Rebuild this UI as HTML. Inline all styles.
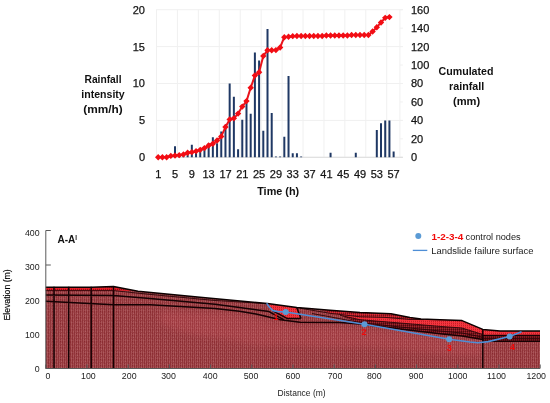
<!DOCTYPE html>
<html lang="en"><head><meta charset="utf-8"><title>Rainfall and slope section</title>
<style>html,body{margin:0;padding:0;background:#fff}svg{display:block}</style></head>
<body>
<svg width="550" height="403" viewBox="0 0 550 403">
<defs>
<pattern id="mesh" width="8" height="6" patternUnits="userSpaceOnUse" shape-rendering="crispEdges"><rect x="0" y="0" width="1" height="1" fill="rgb(144, 50, 55)"/><rect x="1" y="0" width="1" height="1" fill="rgb(161, 73, 77)"/><rect x="2" y="0" width="1" height="1" fill="rgb(149, 57, 62)"/><rect x="3" y="0" width="1" height="1" fill="rgb(160, 71, 76)"/><rect x="4" y="0" width="1" height="1" fill="rgb(147, 54, 60)"/><rect x="5" y="0" width="1" height="1" fill="rgb(165, 78, 82)"/><rect x="6" y="0" width="1" height="1" fill="rgb(139, 44, 50)"/><rect x="7" y="0" width="1" height="1" fill="rgb(167, 81, 85)"/><rect x="0" y="1" width="1" height="1" fill="rgb(145, 51, 56)"/><rect x="1" y="1" width="1" height="1" fill="rgb(172, 87, 91)"/><rect x="2" y="1" width="1" height="1" fill="rgb(145, 52, 57)"/><rect x="3" y="1" width="1" height="1" fill="rgb(166, 80, 84)"/><rect x="4" y="1" width="1" height="1" fill="rgb(151, 60, 65)"/><rect x="5" y="1" width="1" height="1" fill="rgb(178, 96, 99)"/><rect x="6" y="1" width="1" height="1" fill="rgb(146, 53, 58)"/><rect x="7" y="1" width="1" height="1" fill="rgb(168, 83, 86)"/><rect x="0" y="2" width="1" height="1" fill="rgb(143, 49, 54)"/><rect x="1" y="2" width="1" height="1" fill="rgb(169, 83, 87)"/><rect x="2" y="2" width="1" height="1" fill="rgb(142, 48, 53)"/><rect x="3" y="2" width="1" height="1" fill="rgb(159, 71, 75)"/><rect x="4" y="2" width="1" height="1" fill="rgb(149, 56, 62)"/><rect x="5" y="2" width="1" height="1" fill="rgb(154, 63, 68)"/><rect x="6" y="2" width="1" height="1" fill="rgb(147, 54, 59)"/><rect x="7" y="2" width="1" height="1" fill="rgb(158, 69, 73)"/><rect x="0" y="3" width="1" height="1" fill="rgb(141, 46, 51)"/><rect x="1" y="3" width="1" height="1" fill="rgb(161, 72, 77)"/><rect x="2" y="3" width="1" height="1" fill="rgb(143, 49, 55)"/><rect x="3" y="3" width="1" height="1" fill="rgb(172, 88, 91)"/><rect x="4" y="3" width="1" height="1" fill="rgb(141, 46, 52)"/><rect x="5" y="3" width="1" height="1" fill="rgb(168, 83, 87)"/><rect x="6" y="3" width="1" height="1" fill="rgb(149, 57, 62)"/><rect x="7" y="3" width="1" height="1" fill="rgb(165, 78, 82)"/><rect x="0" y="4" width="1" height="1" fill="rgb(153, 62, 67)"/><rect x="1" y="4" width="1" height="1" fill="rgb(165, 79, 83)"/><rect x="2" y="4" width="1" height="1" fill="rgb(145, 51, 57)"/><rect x="3" y="4" width="1" height="1" fill="rgb(168, 82, 86)"/><rect x="4" y="4" width="1" height="1" fill="rgb(155, 65, 70)"/><rect x="5" y="4" width="1" height="1" fill="rgb(172, 87, 91)"/><rect x="6" y="4" width="1" height="1" fill="rgb(149, 57, 62)"/><rect x="7" y="4" width="1" height="1" fill="rgb(174, 91, 94)"/><rect x="0" y="5" width="1" height="1" fill="rgb(140, 45, 51)"/><rect x="1" y="5" width="1" height="1" fill="rgb(158, 69, 73)"/><rect x="2" y="5" width="1" height="1" fill="rgb(146, 52, 58)"/><rect x="3" y="5" width="1" height="1" fill="rgb(165, 78, 82)"/><rect x="4" y="5" width="1" height="1" fill="rgb(136, 40, 46)"/><rect x="5" y="5" width="1" height="1" fill="rgb(162, 75, 79)"/><rect x="6" y="5" width="1" height="1" fill="rgb(141, 46, 52)"/><rect x="7" y="5" width="1" height="1" fill="rgb(167, 82, 85)"/></pattern>
<pattern id="meshb" width="2" height="2" patternUnits="userSpaceOnUse" shape-rendering="crispEdges"><rect x="0" y="0" width="1" height="1" fill="rgb(246, 50, 60)"/><rect x="1" y="0" width="1" height="1" fill="rgb(236, 44, 54)"/><rect x="0" y="1" width="1" height="1" fill="rgb(238, 62, 70)"/><rect x="1" y="1" width="1" height="1" fill="rgb(200, 28, 38)"/></pattern>
<pattern id="meshm" width="2" height="2" patternUnits="userSpaceOnUse" shape-rendering="crispEdges"><rect x="0" y="0" width="1" height="1" fill="rgb(225, 44, 54)"/><rect x="1" y="0" width="1" height="1" fill="rgb(170, 30, 40)"/><rect x="0" y="1" width="1" height="1" fill="rgb(190, 34, 44)"/><rect x="1" y="1" width="1" height="1" fill="rgb(120, 16, 24)"/></pattern>
<pattern id="meshb2" width="2" height="2" patternUnits="userSpaceOnUse" shape-rendering="crispEdges"><rect x="0" y="0" width="1" height="1" fill="rgb(236, 30, 40)"/><rect x="1" y="0" width="1" height="1" fill="rgb(214, 24, 34)"/><rect x="0" y="1" width="1" height="1" fill="rgb(222, 28, 38)"/><rect x="1" y="1" width="1" height="1" fill="rgb(150, 12, 20)"/></pattern>
<pattern id="meshd" width="2" height="2" patternUnits="userSpaceOnUse" shape-rendering="crispEdges"><rect x="0" y="0" width="1" height="1" fill="rgb(160, 40, 48)"/><rect x="1" y="0" width="1" height="1" fill="rgb(112, 18, 26)"/><rect x="0" y="1" width="1" height="1" fill="rgb(128, 24, 30)"/><rect x="1" y="1" width="1" height="1" fill="rgb(76, 8, 12)"/></pattern>
<filter id="bl" x="-20%" y="-20%" width="140%" height="140%"><feGaussianBlur stdDeviation="3"/></filter>
</defs>
<rect width="550" height="403" fill="#fff"/>
<path d="M156.1 157.30H402.9M156.1 120.40H402.9M156.1 83.50H402.9M156.1 46.60H402.9M156.1 9.70H402.9M156.50 9.7V157.3M177.43 9.7V157.3M198.36 9.7V157.3M219.29 9.7V157.3M240.22 9.7V157.3M261.15 9.7V157.3M282.08 9.7V157.3M303.01 9.7V157.3M323.94 9.7V157.3M344.87 9.7V157.3M365.80 9.7V157.3M386.73 9.7V157.3M399.9 9.7V157.3M399.9 157.30h3M399.9 138.85h3M399.9 120.40h3M399.9 101.95h3M399.9 83.50h3M399.9 65.05h3M399.9 46.60h3M399.9 28.15h3M399.9 9.70h3" stroke="#f0f0f0" stroke-width="1" fill="none"/>
<path d="M156.1 157.3H402.9" stroke="#dcdcdc" stroke-width="1" fill="none"/>
<path d="M174.02 157.3v-11.07h2.0v11.07zM178.22 157.3v-2.21h2.0v2.21zM182.43 157.3v-3.69h2.0v3.69zM186.63 157.3v-5.90h2.0v5.90zM190.83 157.3v-12.55h2.0v12.55zM195.04 157.3v-5.17h2.0v5.17zM199.24 157.3v-8.12h2.0v8.12zM203.45 157.3v-9.96h2.0v9.96zM207.65 157.3v-14.02h2.0v14.02zM211.85 157.3v-19.93h2.0v19.93zM216.06 157.3v-14.02h2.0v14.02zM220.26 157.3v-25.83h2.0v25.83zM224.47 157.3v-32.47h2.0v32.47zM228.67 157.3v-73.80h2.0v73.80zM232.87 157.3v-60.52h2.0v60.52zM237.08 157.3v-8.12h2.0v8.12zM241.28 157.3v-37.64h2.0v37.64zM245.49 157.3v-55.35h2.0v55.35zM249.69 157.3v-43.54h2.0v43.54zM253.89 157.3v-104.80h2.0v104.80zM258.10 157.3v-96.68h2.0v96.68zM262.30 157.3v-26.57h2.0v26.57zM266.51 157.3v-128.41h2.0v128.41zM270.71 157.3v-44.28h2.0v44.28zM274.91 157.3v-0.89h2.0v0.89zM279.12 157.3v-0.89h2.0v0.89zM283.32 157.3v-20.66h2.0v20.66zM287.53 157.3v-81.18h2.0v81.18zM291.73 157.3v-4.06h2.0v4.06zM295.93 157.3v-4.06h2.0v4.06zM300.14 157.3v-0.89h2.0v0.89zM329.57 157.3v-4.43h2.0v4.43zM354.79 157.3v-4.43h2.0v4.43zM375.81 157.3v-27.31h2.0v27.31zM380.01 157.3v-33.95h2.0v33.95zM384.22 157.3v-36.90h2.0v36.90zM388.42 157.3v-36.90h2.0v36.90zM392.63 157.3v-5.90h2.0v5.90z" fill="#1f3864"/>
<polyline points="158.20,157.30 162.41,157.30 166.61,157.30 170.81,155.90 175.02,155.62 179.22,155.15 183.43,154.40 187.63,152.81 191.83,152.16 196.04,151.13 200.24,149.87 204.45,148.09 208.65,145.57 212.85,143.79 217.06,140.52 221.26,136.41 225.47,127.06 229.67,119.40 233.87,118.37 238.08,113.60 242.28,106.59 246.49,101.08 250.69,87.80 254.89,75.56 259.10,72.19 263.30,55.93 267.51,50.32 271.71,50.21 275.91,50.09 280.12,47.48 284.32,37.20 288.53,36.68 292.73,36.17 296.93,36.06 301.14,36.06 305.34,36.06 309.55,36.06 313.75,36.06 317.95,36.06 322.16,36.06 326.36,35.49 330.57,35.49 334.77,35.49 338.97,35.49 343.18,35.49 347.38,35.49 351.59,34.93 355.79,34.93 359.99,34.93 364.20,34.93 368.40,34.93 372.61,31.47 376.81,27.18 381.01,22.50 385.22,17.83 389.42,17.08" fill="none" stroke="#e8141c" stroke-width="2" stroke-linejoin="round"/>
<path d="M158.20 154.10l3.2 3.2l-3.2 3.2l-3.2 -3.2zM162.41 154.10l3.2 3.2l-3.2 3.2l-3.2 -3.2zM166.61 154.10l3.2 3.2l-3.2 3.2l-3.2 -3.2zM170.81 152.70l3.2 3.2l-3.2 3.2l-3.2 -3.2zM175.02 152.42l3.2 3.2l-3.2 3.2l-3.2 -3.2zM179.22 151.95l3.2 3.2l-3.2 3.2l-3.2 -3.2zM183.43 151.20l3.2 3.2l-3.2 3.2l-3.2 -3.2zM187.63 149.61l3.2 3.2l-3.2 3.2l-3.2 -3.2zM191.83 148.96l3.2 3.2l-3.2 3.2l-3.2 -3.2zM196.04 147.93l3.2 3.2l-3.2 3.2l-3.2 -3.2zM200.24 146.67l3.2 3.2l-3.2 3.2l-3.2 -3.2zM204.45 144.89l3.2 3.2l-3.2 3.2l-3.2 -3.2zM208.65 142.37l3.2 3.2l-3.2 3.2l-3.2 -3.2zM212.85 140.59l3.2 3.2l-3.2 3.2l-3.2 -3.2zM217.06 137.32l3.2 3.2l-3.2 3.2l-3.2 -3.2zM221.26 133.21l3.2 3.2l-3.2 3.2l-3.2 -3.2zM225.47 123.86l3.2 3.2l-3.2 3.2l-3.2 -3.2zM229.67 116.20l3.2 3.2l-3.2 3.2l-3.2 -3.2zM233.87 115.17l3.2 3.2l-3.2 3.2l-3.2 -3.2zM238.08 110.40l3.2 3.2l-3.2 3.2l-3.2 -3.2zM242.28 103.39l3.2 3.2l-3.2 3.2l-3.2 -3.2zM246.49 97.88l3.2 3.2l-3.2 3.2l-3.2 -3.2zM250.69 84.60l3.2 3.2l-3.2 3.2l-3.2 -3.2zM254.89 72.36l3.2 3.2l-3.2 3.2l-3.2 -3.2zM259.10 68.99l3.2 3.2l-3.2 3.2l-3.2 -3.2zM263.30 52.73l3.2 3.2l-3.2 3.2l-3.2 -3.2zM267.51 47.12l3.2 3.2l-3.2 3.2l-3.2 -3.2zM271.71 47.01l3.2 3.2l-3.2 3.2l-3.2 -3.2zM275.91 46.89l3.2 3.2l-3.2 3.2l-3.2 -3.2zM280.12 44.28l3.2 3.2l-3.2 3.2l-3.2 -3.2zM284.32 34.00l3.2 3.2l-3.2 3.2l-3.2 -3.2zM288.53 33.48l3.2 3.2l-3.2 3.2l-3.2 -3.2zM292.73 32.97l3.2 3.2l-3.2 3.2l-3.2 -3.2zM296.93 32.86l3.2 3.2l-3.2 3.2l-3.2 -3.2zM301.14 32.86l3.2 3.2l-3.2 3.2l-3.2 -3.2zM305.34 32.86l3.2 3.2l-3.2 3.2l-3.2 -3.2zM309.55 32.86l3.2 3.2l-3.2 3.2l-3.2 -3.2zM313.75 32.86l3.2 3.2l-3.2 3.2l-3.2 -3.2zM317.95 32.86l3.2 3.2l-3.2 3.2l-3.2 -3.2zM322.16 32.86l3.2 3.2l-3.2 3.2l-3.2 -3.2zM326.36 32.29l3.2 3.2l-3.2 3.2l-3.2 -3.2zM330.57 32.29l3.2 3.2l-3.2 3.2l-3.2 -3.2zM334.77 32.29l3.2 3.2l-3.2 3.2l-3.2 -3.2zM338.97 32.29l3.2 3.2l-3.2 3.2l-3.2 -3.2zM343.18 32.29l3.2 3.2l-3.2 3.2l-3.2 -3.2zM347.38 32.29l3.2 3.2l-3.2 3.2l-3.2 -3.2zM351.59 31.73l3.2 3.2l-3.2 3.2l-3.2 -3.2zM355.79 31.73l3.2 3.2l-3.2 3.2l-3.2 -3.2zM359.99 31.73l3.2 3.2l-3.2 3.2l-3.2 -3.2zM364.20 31.73l3.2 3.2l-3.2 3.2l-3.2 -3.2zM368.40 31.73l3.2 3.2l-3.2 3.2l-3.2 -3.2zM372.61 28.27l3.2 3.2l-3.2 3.2l-3.2 -3.2zM376.81 23.98l3.2 3.2l-3.2 3.2l-3.2 -3.2zM381.01 19.30l3.2 3.2l-3.2 3.2l-3.2 -3.2zM385.22 14.63l3.2 3.2l-3.2 3.2l-3.2 -3.2zM389.42 13.88l3.2 3.2l-3.2 3.2l-3.2 -3.2z" fill="#f20d14"/>
<g font-family="Liberation Sans, sans-serif" font-size="11" fill="#141414" stroke="#141414" stroke-width="0.25">
<text x="145" y="161.2" text-anchor="end">0</text>
<text x="145" y="124.3" text-anchor="end">5</text>
<text x="145" y="87.4" text-anchor="end">10</text>
<text x="145" y="50.5" text-anchor="end">15</text>
<text x="145" y="13.6" text-anchor="end">20</text>
<text x="411" y="161.2">0</text>
<text x="411" y="142.8">20</text>
<text x="411" y="124.3">40</text>
<text x="411" y="105.9">60</text>
<text x="411" y="87.4">80</text>
<text x="411" y="69.0">100</text>
<text x="411" y="50.5">120</text>
<text x="411" y="32.1">140</text>
<text x="411" y="13.6">160</text>
<text x="158.2" y="177.7" text-anchor="middle">1</text>
<text x="175.0" y="177.7" text-anchor="middle">5</text>
<text x="191.8" y="177.7" text-anchor="middle">9</text>
<text x="208.6" y="177.7" text-anchor="middle">13</text>
<text x="225.5" y="177.7" text-anchor="middle">17</text>
<text x="242.3" y="177.7" text-anchor="middle">21</text>
<text x="259.1" y="177.7" text-anchor="middle">25</text>
<text x="275.9" y="177.7" text-anchor="middle">29</text>
<text x="292.7" y="177.7" text-anchor="middle">33</text>
<text x="309.5" y="177.7" text-anchor="middle">37</text>
<text x="326.4" y="177.7" text-anchor="middle">41</text>
<text x="343.2" y="177.7" text-anchor="middle">45</text>
<text x="360.0" y="177.7" text-anchor="middle">49</text>
<text x="376.8" y="177.7" text-anchor="middle">53</text>
<text x="393.6" y="177.7" text-anchor="middle">57</text>
</g>
<g font-family="Liberation Sans, sans-serif" font-size="11" font-weight="bold" fill="#111" text-anchor="middle">
<text x="103" y="82.5" textLength="37" lengthAdjust="spacingAndGlyphs">Rainfall</text>
<text x="103" y="97.5" textLength="43.5" lengthAdjust="spacingAndGlyphs">intensity</text>
<text x="103" y="112.5" textLength="39.5" lengthAdjust="spacingAndGlyphs">(mm/h)</text>
<text x="466" y="75" textLength="55" lengthAdjust="spacingAndGlyphs">Cumulated</text>
<text x="466.6" y="89.8" textLength="35.2" lengthAdjust="spacingAndGlyphs">rainfall</text>
<text x="466.6" y="105" textLength="27.2" lengthAdjust="spacingAndGlyphs">(mm)</text>
<text x="278.2" y="194.5" textLength="42" lengthAdjust="spacingAndGlyphs">Time (h)</text>
</g>
<path d="M45.8 287.3L91.5 287.3L113.5 286.4L138.0 291.2L200.0 297.2L240.0 301.0L267.4 303.5L296.8 307.5L330.0 310.2L360.0 312.4L391.0 313.8L410.0 317.6L421.0 319.0L440.0 319.8L462.0 320.6L482.8 329.4L500.0 331.0L540.0 331.0L540.0 368.5L45.8 368.5z" fill="url(#mesh)"/>
<g filter="url(#bl)" fill="rgb(238,104,114)" opacity="0.16"><path d="M160 311L230 313L256 318L283 323L300 326L345 327L400 332L440 337L482 342L482 356L440 354L400 350L360 347L320 348L290 344L260 346L230 340L200 336L175 330L160 323z"/></g>
<path d="M322.0 310.0L330.0 310.2L360.0 312.4L391.0 313.8L410.0 317.6L421.0 319.0L424.0 319.4L424.0 319.6L410.0 319.4L385.0 317.4L360.0 316.8L330.0 313.3z" fill="url(#meshm)"/>
<path d="M45.8 287.8L91.5 287.8L113.5 287.0L134.0 291.0L113.5 290.4L45.8 290.4z" fill="url(#meshb2)"/>
<path d="M268.2 304.2L296.8 308.0L301.0 318.4L287.0 318.4L273.0 310.8z" fill="url(#meshb)"/>
<path d="M300.0 308.2L330.0 313.3L360.0 316.8L385.0 317.4L410.0 319.4L424.0 319.6L440.0 319.8L462.0 320.6L482.8 329.4L482.8 329.6L482.8 334.5L462.0 328.0L440.0 326.4L400.0 323.0L385.0 321.8L360.0 319.7L340.0 315.3z" fill="url(#meshb)"/>
<path d="M482.8 330.0L500.0 331.4L540.0 331.4L540.0 335.4L482.8 335.4z" fill="url(#meshb)"/>
<path d="M340.0 315.3L360.0 319.7L385.0 321.8L400.0 323.0L440.0 326.4L462.0 328.0L482.8 334.5L482.8 339.4L462.0 336.0L440.0 333.8L400.0 329.0L360.0 324.0z" fill="url(#meshd)"/>
<path d="M482.8 335.6H540V341.4H482.8z" fill="url(#meshd)"/>
<path d="M45.8 295.0L113.5 295.6L150.0 298.6L215.0 304.3L239.5 307.5L269.0 311.6L283.7 319.6M45.8 301.2L113.5 304.8L150.0 304.8L215.0 308.4L239.5 311.3L256.0 314.0L280.5 319.8L300.0 322.3M300.0 322.3L340.0 322.6L360.0 324.0L400.0 329.0L440.0 333.8L462.0 336.0L482.8 339.4M482.8 335.6L540.0 335.6M482.8 341.2L540.0 341.2M54.0 286.8L54.0 368.5M68.7 286.8L68.7 368.5M91.2 286.8L91.2 368.5M113.5 286.0L113.5 368.5M482.8 329.4L482.8 368.5M273.0 310.8L287.0 318.4L301.0 318.6M296.8 307.8L301.0 318.6" fill="none" stroke="#160103" stroke-width="1.5" stroke-linejoin="round"/>
<path d="M45.8 290.6L113.5 290.6L150.0 294.4L215.0 300.5L250.0 302.6L267.0 303.8M300.0 308.2L330.0 313.3L360.0 316.8L385.0 317.4L410.0 319.4L424.0 319.6M340.0 315.3L360.0 319.7L385.0 321.8L400.0 323.0L440.0 326.4L462.0 328.0L482.8 334.5M312.0 313.5L330.0 316.8L360.0 322.6L400.0 327.0L440.0 331.0L462.0 333.0L482.8 337.2M482.8 338.6L540.0 338.6" fill="none" stroke="#2a0508" stroke-width="0.9" stroke-linejoin="round"/>
<path d="M45.8 287.3L91.5 287.3L113.5 286.4L138.0 291.2L200.0 297.2L240.0 301.0L267.4 303.5L296.8 307.5L330.0 310.2L360.0 312.4L391.0 313.8L410.0 317.6L421.0 319.0L440.0 319.8L462.0 320.6L482.8 329.4L500.0 331.0L540.0 331.0" fill="none" stroke="#0c0000" stroke-width="1.5" stroke-linejoin="round"/>
<path d="M45.8 230.5V368.5H540M45.8 368.50h5M45.8 265.00h5M45.8 230.50h5M45.80 368.5v-4M87.00 368.5v-4M128.20 368.5v-4M169.40 368.5v-4M210.60 368.5v-4M251.80 368.5v-4M293.00 368.5v-4M334.20 368.5v-4M375.40 368.5v-4M416.60 368.5v-4M457.80 368.5v-4M499.00 368.5v-4M540.20 368.5v-4" stroke="#5a5a5a" stroke-width="1" fill="none"/>
<path d="M267.0 303.8L269.5 307.2L273.0 310.6L278.0 311.6L285.7 312.0L300.0 314.2L364.5 324.3L449.1 339.2L470.0 342.0L478.0 342.7L488.0 341.6L509.6 336.5L516.0 334.0L521.0 332.0" fill="none" stroke="#4e8ed6" stroke-width="1.6" stroke-linejoin="round" stroke-linecap="round"/>
<circle cx="285.7" cy="312" r="3" fill="#5b9bd5"/>
<circle cx="364.5" cy="324.3" r="3" fill="#5b9bd5"/>
<circle cx="449.1" cy="339.2" r="3" fill="#5b9bd5"/>
<circle cx="509.6" cy="336.5" r="3" fill="#5b9bd5"/>
<g font-family="Liberation Sans, sans-serif" font-size="9" font-weight="bold" fill="#f20a0a" text-anchor="middle">
<text x="275.9" y="320.3">1</text>
<text x="364" y="335">2</text>
<text x="449.2" y="351.4">3</text>
<text x="512.4" y="350.3">4</text>
</g>
<g font-family="Liberation Sans, sans-serif" font-size="8.8" fill="#222">
<text x="39.6" y="372.0" text-anchor="end">0</text>
<text x="39.6" y="338.1" text-anchor="end">100</text>
<text x="39.6" y="303.9" text-anchor="end">200</text>
<text x="39.6" y="269.6" text-anchor="end">300</text>
<text x="39.6" y="235.8" text-anchor="end">400</text>
<text x="48" y="379.2" text-anchor="middle">0</text>
<text x="88.4" y="379.2" text-anchor="middle">100</text>
<text x="129.2" y="379.2" text-anchor="middle">200</text>
<text x="168.5" y="379.2" text-anchor="middle">300</text>
<text x="210.2" y="379.2" text-anchor="middle">400</text>
<text x="251" y="379.2" text-anchor="middle">500</text>
<text x="292.9" y="379.2" text-anchor="middle">600</text>
<text x="335" y="379.2" text-anchor="middle">700</text>
<text x="374.3" y="379.2" text-anchor="middle">800</text>
<text x="416" y="379.2" text-anchor="middle">900</text>
<text x="457.7" y="379.2" text-anchor="middle">1000</text>
<text x="496.5" y="379.2" text-anchor="middle">1100</text>
<text x="536.2" y="379.2" text-anchor="middle">1200</text>
<text x="277.6" y="395.9" font-size="9" textLength="48" lengthAdjust="spacingAndGlyphs">Distance (m)</text>
<text transform="translate(9.7,320.6) rotate(-90)" font-size="9" fill="#000" stroke="#000" stroke-width="0.15" textLength="51.3" lengthAdjust="spacingAndGlyphs">Elevation (m)</text>
</g>
<text x="57.4" y="243.3" font-family="Liberation Sans, sans-serif" font-size="10.5" font-weight="bold" fill="#111" textLength="19.6" lengthAdjust="spacingAndGlyphs">A-A<tspan dy="-3.6" font-size="6.5">I</tspan></text>
<circle cx="418.3" cy="236" r="3" fill="#5b9bd5"/>
<path d="M412.8 250.4H427.3" stroke="#4e8ed6" stroke-width="1.3"/>
<g font-family="Liberation Sans, sans-serif" font-size="9.6" fill="#222">
<text x="431.4" y="239.8"><tspan font-weight="bold" fill="#f20a0a" textLength="32" lengthAdjust="spacingAndGlyphs">1-2-3-4</tspan><tspan x="465.6" textLength="55" lengthAdjust="spacingAndGlyphs">control nodes</tspan></text>
<text x="431.2" y="253.6" textLength="102.4" lengthAdjust="spacingAndGlyphs">Landslide failure surface</text>
</g>
</svg>
</body></html>
